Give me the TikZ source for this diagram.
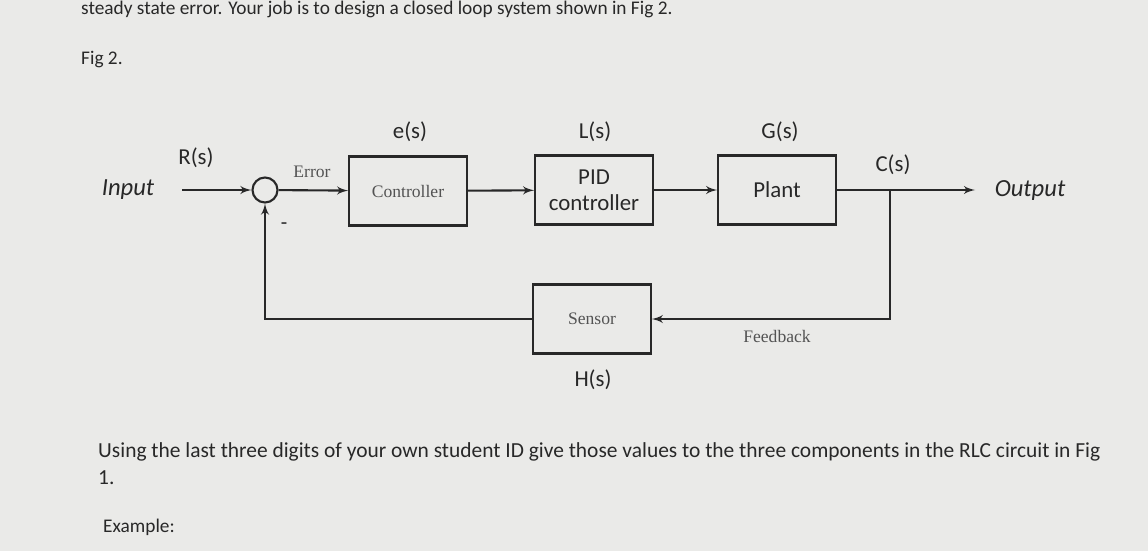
\documentclass[tikz,border=0pt]{standalone}
\usepackage{fontspec}
\setmainfont{Carlito}
\newfontfamily\serifx{Liberation Serif}
\usetikzlibrary{positioning,arrows}
\definecolor{paper}{RGB}{234,234,232}
\definecolor{ink}{RGB}{40,40,40}
\tikzset{
  blk/.style={draw=ink,very thick,minimum width=2.35cm,minimum height=1.38cm,align=center},
  sig/.style={draw=ink,very thick,->,>=latex'},
  lbl/.style={text=ink,font=\fontsize{13}{15}\selectfont},
  sml/.style={text=ink!80,font=\serifx\fontsize{10}{12}\selectfont},
  txt/.style={text=ink,font=\fontsize{12.2}{14}\selectfont,anchor=west}
}
\begin{document}
\begin{tikzpicture}[x=0.02cm,y=-0.02cm]
  \fill[paper] (0,0) rectangle (1148,551);
  \useasboundingbox (0,0) rectangle (1148,551);

  % page text
  \node[txt,font=\fontsize{11}{13}\selectfont] (top) at (75,9) {steady state error. Your job is to design a closed loop system shown in Fig 2.};
  \node[txt,font=\fontsize{11}{13}\selectfont] (fig) at (75,60) {Fig 2.};
  \node[txt] (q1) at (92,452) {Using the last three digits of your own student ID give those values to the three components in the RLC circuit in Fig};
  \node[txt] (q2) at (92,478) {1.};
  \node[txt,font=\fontsize{11}{13}\selectfont] (ex) at (97,527) {Example:};

  % blocks
  \node[draw=ink,very thick,circle,minimum size=0.5cm,inner sep=0] (sum) at (265,190) {};
  \node[blk,font=\serifx\fontsize{10}{12}\selectfont,text=ink!80] (ctrl) at (408,191) {Controller};
  \node[blk,lbl] (pid) at (594,190) {PID\\controller};
  \node[blk,lbl] (plant) at (777,190) {Plant};
  \node[blk,font=\serifx\fontsize{10}{12}\selectfont,text=ink!80] (sens) at (592,319) {Sensor};
  \coordinate (in) at (182,190);
  \coordinate (br) at (890,190);
  \coordinate (out) at (975,190);

  % labels
  \node[lbl,font=\itshape\fontsize{14}{16}\selectfont] (lin) at (128,190) {Input};
  \node[lbl,font=\itshape\fontsize{14}{16}\selectfont] (lout) at (1030,190) {Output};
  \node[lbl] (lr) at (196,158) {R(s)};
  \node[lbl] (le) at (410,132) {e(s)};
  \node[lbl] (ll) at (595,132) {L(s)};
  \node[lbl] (lg) at (780,132) {G(s)};
  \node[lbl] (lc) at (893,165) {C(s)};
  \node[lbl] (lh) at (593,380) {H(s)};
  \node[sml] (lerr) at (312,172) {Error};
  \node[sml] (lfb) at (777,336) {Feedback};
  \node[text=ink,font=\large] (lm) at (284,226) {-};

  % connectors
  \draw[sig] (in) -- (sum);
  \draw[sig] (sum) -- (ctrl);
  \draw[sig] (ctrl) -- (pid);
  \draw[sig] (pid) -- (plant);
  \draw[sig] (plant) -- (out);
  \draw[sig] (br) |- (sens);
  \draw[sig] (sens) -| (sum);
\end{tikzpicture}
\end{document}
